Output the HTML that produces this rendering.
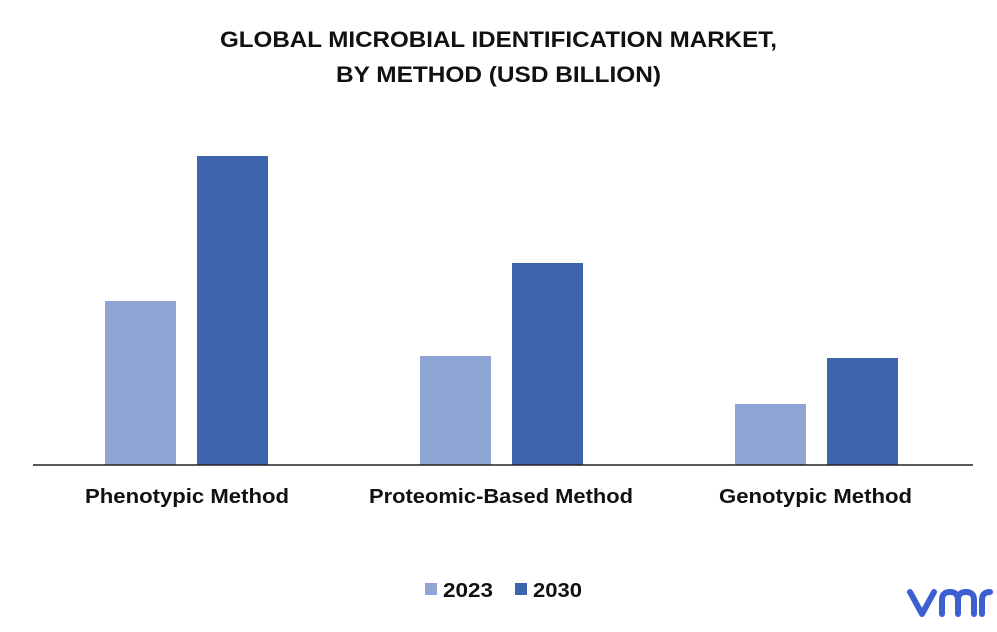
<!DOCTYPE html>
<html><head><meta charset="utf-8"><style>
body{margin:0;background:#fff;width:997px;height:627px;overflow:hidden;font-family:"Liberation Sans",sans-serif}
</style></head><body>
<svg id="chart" width="997" height="627" xmlns="http://www.w3.org/2000/svg">
<text x="220" y="47" textLength="557" lengthAdjust="spacingAndGlyphs" font-weight="bold" font-size="22" fill="#111">GLOBAL MICROBIAL IDENTIFICATION MARKET,</text>
<text x="336" y="82" textLength="325" lengthAdjust="spacingAndGlyphs" font-weight="bold" font-size="22" fill="#111">BY METHOD (USD BILLION)</text>
<g id="bars"></g>
<line x1="33" y1="465" x2="973" y2="465" stroke="#222" stroke-width="1.5"/>
<g id="labels"></g>
<rect x="425" y="583" width="12" height="12" fill="#8fa5d6"/>
<text x="443" y="597" textLength="50" lengthAdjust="spacingAndGlyphs" font-weight="bold" font-size="20" fill="#111">2023</text>
<rect x="515" y="583" width="12" height="12" fill="#3d64ad"/>
<text x="533" y="597" textLength="49" lengthAdjust="spacingAndGlyphs" font-weight="bold" font-size="20" fill="#111">2030</text>
<g fill="none" stroke="#3d5fd0" stroke-width="6" stroke-linecap="round" stroke-linejoin="round">
<path d="M910 592 L922 614 L934 592"/>
<path d="M942 614 L942 600 Q942 592 950 592 Q958 592 958 600 L958 614 M958 600 Q958 592 966 592 Q974 592 974 600 L974 614"/>
<path d="M982 614 L982 600 Q982 592 990 592"/>
</g>
</svg>
<script>
const categories=["Phenotypic Method","Proteomic-Based Method","Genotypic Method"];
const values2023=[1.64,1.09,0.61];
const values2030=[3.09,2.02,1.07];
const NS="http://www.w3.org/2000/svg";
const base=465, pxPerUnit=100, barW=71;
const labelLeft=[85,369,719], labelWidth=[204,264,193];
function y(v){return base-v*pxPerUnit;}
function groupCenter(i){return 187+i*315;}
const bars=document.getElementById('bars'), labels=document.getElementById('labels');
categories.forEach((c,i)=>{
  const cx=groupCenter(i);
  [[values2023[i],"#8fa5d6",cx-82,"2023"],[values2030[i],"#3d64ad",cx+10,"2030"]].forEach(([v,col,x,s])=>{
    const r=document.createElementNS(NS,'rect');
    
    
    r.setAttribute('x',x);r.setAttribute('y',y(v));r.setAttribute('width',barW);r.setAttribute('height',base-y(v));r.setAttribute('fill',col);
    bars.appendChild(r);
  });
  const t=document.createElementNS(NS,'text');
  
  
  t.setAttribute('x',labelLeft[i]);t.setAttribute('y',503);t.setAttribute('textLength',labelWidth[i]);t.setAttribute('lengthAdjust','spacingAndGlyphs');t.setAttribute('font-weight','bold');t.setAttribute('font-size','20');t.setAttribute('fill','#111');
  t.textContent=c;labels.appendChild(t);
});
</script>
</body></html>
